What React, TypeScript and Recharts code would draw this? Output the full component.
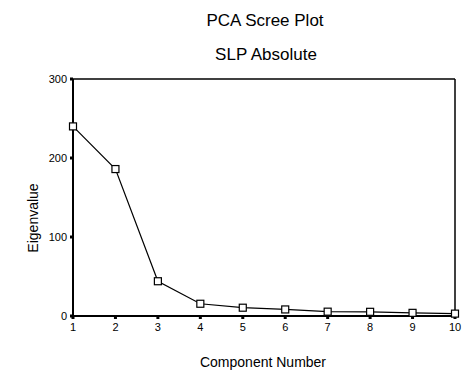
import React from "react";
import { LineChart, Line, XAxis, YAxis, ReferenceLine } from "recharts";

const components = [1, 2, 3, 4, 5, 6, 7, 8, 9, 10];
const eigenvalues = [240, 186, 44, 15.5, 10.5, 8.3, 5.5, 5.3, 4, 3];
const xTicks = [1, 2, 3, 4, 5, 6, 7, 8, 9, 10];
const yTicks = [0, 100, 200, 300];

const data = components.map((c, i) => ({ comp: c, value: eigenvalues[i] }));

const FONT = "'Liberation Sans', Arial, sans-serif";

const SquareDot = (props: any) => {
  const { cx, cy } = props;
  if (cx == null || cy == null) return null;
  return (
    <rect x={cx - 3.5} y={cy - 3.5} width={7} height={7} fill="#fff" stroke="#000" strokeWidth={1.2} />
  );
};

export default function App() {
  return (
    <div style={{ position: "absolute", left: 0, top: 0, width: 474, height: 378, background: "#fff", fontFamily: FONT }}>
      <div style={{ position: "absolute", left: 0, width: 474, top: 11, textAlign: "center", paddingLeft: 56, boxSizing: "border-box", fontSize: 17, color: "#000", lineHeight: "20px" }}>
        PCA Scree Plot
      </div>
      <div style={{ position: "absolute", left: 0, width: 474, top: 45, textAlign: "center", paddingLeft: 58, boxSizing: "border-box", fontSize: 17, color: "#000", lineHeight: "20px" }}>
        SLP Absolute
      </div>
      <div style={{ position: "absolute", left: 0, width: 474, top: 353, textAlign: "center", paddingLeft: 52, boxSizing: "border-box", fontSize: 14, color: "#000", lineHeight: "18px" }}>
        Component Number
      </div>
      <div style={{ position: "absolute", left: 33, top: 218, fontSize: 14, color: "#000", transform: "translate(-50%, -50%) rotate(-90deg)", whiteSpace: "nowrap", lineHeight: "18px" }}>
        Eigenvalue
      </div>
      <div style={{ position: "absolute", left: 0, top: 0 }}>
        <LineChart width={474} height={378} data={data} margin={{ top: 79, right: 19, left: 0, bottom: 0 }}>
          <XAxis
            dataKey="comp"
            type="number"
            domain={[1, 10]}
            ticks={xTicks}
            height={62}
            axisLine={{ stroke: "#000", strokeWidth: 2 }}
            tickLine={{ stroke: "#000", strokeWidth: 3 }}
            tickSize={3}
            tickMargin={4}
            tick={{ fill: "#000", fontSize: 11, fontFamily: FONT }}
            interval={0}
          />
          <YAxis
            type="number"
            domain={[0, 300]}
            ticks={yTicks}
            width={73}
            axisLine={{ stroke: "#000", strokeWidth: 2 }}
            tickLine={{ stroke: "#000", strokeWidth: 3 }}
            tickSize={3}
            tickMargin={3}
            tick={{ fill: "#000", fontSize: 11, fontFamily: FONT }}
            interval={0}
          />
          <ReferenceLine y={300} stroke="#000" strokeWidth={1.5} />
          <ReferenceLine x={10} stroke="#000" strokeWidth={1.5} />
          <Line
            dataKey="value"
            stroke="#000"
            strokeWidth={1.2}
            dot={<SquareDot />}
            activeDot={false}
            isAnimationActive={false}
          />
        </LineChart>
      </div>
    </div>
  );
}
